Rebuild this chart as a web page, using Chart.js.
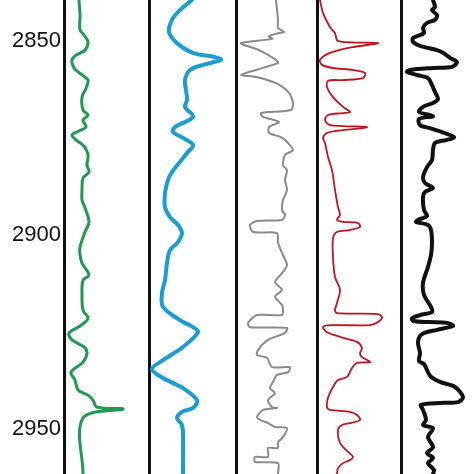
<!DOCTYPE html>
<html>
<head>
<meta charset="utf-8">
<script src="https://cdn.jsdelivr.net/npm/chart.js@4/dist/chart.umd.min.js"></script>
<style>
html,body{margin:0;padding:0;background:#fff;}
#wrap{width:474px;height:474px;position:relative;}
</style>
</head>
<body>
<div id="wrap"><canvas id="c" width="474" height="474"></canvas></div>
<script>
// depth tick labels
const depthTicks = [2850, 2900, 2950];
const depthMin = 2839.5, depthMax = 2961.5;

// curve readings: [reading within track, depth]
const greenLog = [[15,2839.5],[16,2843.4],[16,2847.2],[20,2848.5],[24,2850.3],[21,2852.4],[12,2853.7],[8,2854.9],[10,2857.0],[18,2858.8],[24,2860.1],[22,2862.2],[18,2864.5],[19,2867.8],[24,2869.1],[19,2870.4],[22,2872.2],[15,2873.2],[8,2874.3],[12,2875.5],[20,2877.1],[24,2879.4],[23,2882.0],[25,2883.8],[19,2885.3],[18,2888.4],[18,2891.0],[20,2892.3],[25,2896.6],[21,2899.2],[16,2903.1],[16,2905.1],[18,2907.2],[25,2910.3],[19,2911.6],[18,2915.4],[19,2919.3],[24,2921.4],[16,2923.4],[5,2925.2],[8,2927.0],[20,2928.8],[23,2930.4],[19,2932.7],[7,2935.3],[11,2937.3],[14,2939.9],[24,2941.2],[29,2942.5],[33,2944.3],[59,2944.8],[19,2947.1],[19,2961.5]];

const blueLog = [[43,2839.5],[31,2842.1],[23,2844.6],[20,2847.7],[28,2850.6],[44,2853.1],[66,2854.2],[72,2854.9],[54,2856.2],[41,2857.5],[36,2860.1],[37,2862.7],[38,2865.2],[36,2867.0],[44,2869.6],[26,2872.2],[24,2873.5],[34,2875.0],[44,2876.8],[38,2878.9],[34,2880.2],[23,2883.8],[19,2885.8],[16,2889.2],[16,2892.8],[21,2895.4],[29,2897.4],[33,2899.5],[29,2901.8],[21,2903.9],[18,2907.2],[16,2911.6],[13,2914.9],[14,2918.5],[31,2921.9],[44,2923.7],[49,2925.0],[34,2928.8],[14,2932.2],[3,2934.5],[14,2936.8],[34,2939.4],[48,2942.5],[44,2944.5],[33,2945.5],[28,2947.1],[33,2948.9],[34,2952.0],[34,2961.5]];

const grayLog = [[40,2839.5],[42,2844.6],[42,2846.7],[48,2847.7],[43,2848.0],[33,2848.8],[36,2849.5],[5,2850.6],[23,2852.4],[40,2854.9],[42,2855.7],[20,2857.5],[5,2858.8],[20,2859.3],[40,2860.9],[53,2863.4],[57,2866.0],[55,2867.8],[25,2868.6],[27,2869.6],[43,2870.9],[33,2872.2],[33,2873.7],[45,2874.8],[52,2876.3],[57,2878.1],[49,2879.4],[47,2882.0],[51,2883.3],[49,2885.8],[51,2888.4],[47,2891.0],[46,2893.6],[49,2894.8],[46,2896.1],[21,2896.4],[14,2897.4],[17,2899.2],[41,2899.5],[42,2902.0],[46,2904.6],[51,2907.7],[46,2909.8],[39,2912.1],[46,2914.1],[39,2915.9],[46,2918.0],[47,2919.3],[46,2920.6],[21,2920.6],[12,2922.6],[14,2923.7],[51,2923.9],[49,2925.2],[32,2927.0],[22,2929.6],[21,2930.9],[31,2931.6],[36,2934.0],[54,2934.0],[52,2935.3],[41,2936.0],[37,2937.8],[34,2939.4],[39,2940.7],[32,2942.5],[36,2944.3],[41,2944.5],[27,2945.0],[21,2946.8],[24,2947.6],[32,2948.4],[39,2949.4],[51,2949.7],[47,2952.0],[42,2953.3],[42,2954.8],[32,2954.8],[32,2957.1],[19,2957.1],[19,2958.4],[42,2958.7],[42,2961.5]];

const redLog = [[3,2839.5],[6,2842.8],[13,2846.5],[18,2848.0],[21,2850.1],[61,2850.6],[36,2851.6],[13,2853.1],[3,2854.9],[5,2856.2],[16,2857.0],[36,2857.5],[48,2858.3],[46,2859.6],[26,2860.1],[11,2860.3],[10,2861.9],[16,2864.5],[26,2867.0],[33,2868.3],[26,2868.6],[11,2869.1],[8,2870.4],[13,2871.7],[50,2872.2],[26,2873.0],[10,2873.7],[6,2875.0],[8,2876.3],[11,2879.9],[15,2883.3],[18,2888.4],[21,2892.8],[23,2894.8],[20,2896.1],[26,2896.6],[41,2896.9],[43,2897.9],[33,2898.7],[20,2899.2],[16,2900.8],[16,2905.7],[18,2910.8],[23,2914.1],[20,2917.5],[18,2919.3],[20,2920.1],[60,2920.3],[65,2921.1],[61,2922.4],[53,2923.2],[13,2923.2],[6,2923.7],[10,2925.0],[23,2926.2],[40,2927.5],[45,2929.1],[43,2930.4],[45,2931.4],[53,2932.7],[40,2932.9],[35,2934.2],[30,2936.5],[21,2937.3],[16,2939.1],[11,2941.9],[10,2944.3],[13,2945.0],[33,2945.5],[40,2946.3],[43,2947.6],[33,2948.4],[25,2948.9],[21,2950.2],[23,2953.5],[31,2955.8],[36,2957.1],[33,2957.9],[26,2958.7],[21,2960.0],[20,2961.5]];

const blackLog = [[32,2839.5],[34,2841.3],[31,2842.1],[36,2843.4],[34,2844.6],[26,2845.4],[22,2846.7],[23,2848.0],[12,2849.3],[12,2850.3],[19,2851.3],[36,2852.4],[42,2853.1],[49,2854.4],[56,2855.5],[51,2856.7],[32,2857.0],[9,2857.5],[6,2858.0],[16,2858.8],[27,2859.6],[31,2861.4],[34,2863.2],[37,2865.0],[32,2866.0],[22,2867.0],[18,2868.3],[32,2869.4],[18,2870.1],[19,2871.7],[29,2872.5],[41,2873.5],[53,2874.8],[46,2875.5],[34,2876.3],[32,2878.1],[31,2880.7],[26,2882.5],[22,2885.1],[24,2886.6],[32,2887.9],[24,2888.9],[22,2890.2],[23,2893.6],[26,2895.1],[17,2896.1],[15,2896.6],[27,2897.4],[30,2898.7],[31,2902.0],[30,2905.1],[27,2908.2],[22,2912.3],[23,2915.4],[30,2918.5],[31,2919.8],[19,2920.6],[11,2921.4],[12,2922.1],[29,2922.4],[46,2922.6],[52,2923.4],[36,2924.4],[21,2925.5],[17,2927.5],[19,2930.4],[18,2932.4],[23,2933.2],[27,2935.3],[30,2936.5],[39,2937.8],[54,2939.1],[62,2941.7],[57,2943.0],[39,2943.2],[20,2943.7],[22,2945.0],[25,2947.6],[22,2948.9],[32,2949.7],[27,2952.0],[32,2954.6],[26,2956.1],[32,2957.4],[27,2958.7],[33,2960.5],[32,2961.5]];

// layout of tracks (left edge of each track on the horizontal axis)
const trackLeft = [0, 85, 172, 253, 337];
const trackSpan = 410;

const logs = [greenLog, blueLog, grayLog, redLog, blackLog];
const colors = ['#1f9a50', '#1a9dd3', '#8a8a8a', '#c0151f', '#111111'];
const widths = [3, 4, 2, 1.8, 4];
const tensions = [0.35, 0.35, 0.25, 0.3, 0.3];

const datasets = logs.map((log, i) => ({
  data: log.map(p => ({x: trackLeft[i] + p[0], y: p[1]})),
  borderColor: colors[i],
  borderWidth: widths[i],
  pointRadius: 0,
  fill: false,
  tension: tensions[i],
  borderJoinStyle: 'round',
  borderCapStyle: 'round'
}));

new Chart(document.getElementById('c'), {
  type: 'line',
  data: { datasets },
  options: {
    responsive: false,
    animation: false,
    indexAxis: 'y',
    layout: { padding: 0 },
    plugins: { legend: { display: false }, tooltip: { enabled: false } },
    scales: {
      x: {
        type: 'linear',
        position: 'bottom',
        min: 0,
        max: trackSpan,
        afterBuildTicks: s => { s.ticks = trackLeft.map(v => ({value: v})); },
        ticks: { display: false },
        grid: { color: '#111', lineWidth: 3, drawTicks: false },
        border: { display: false },
        afterFit: s => { s.height = 0; s.paddingLeft = 0; s.paddingRight = 0; s.paddingTop = 0; s.paddingBottom = 0; }
      },
      y: {
        type: 'linear',
        reverse: true,
        min: depthMin,
        max: depthMax,
        afterBuildTicks: s => { s.ticks = depthTicks.map(v => ({value: v})); },
        afterFit: s => { s.width = 64; s.paddingTop = 0; s.paddingBottom = 0; s.paddingLeft = 0; s.paddingRight = 0; },
        ticks: {
          color: '#111',
          padding: 3,
          font: { family: 'Liberation Sans, Arial, sans-serif', size: 22 },
          callback: v => String(v)
        },
        grid: { display: false, drawTicks: false },
        border: { display: true, color: '#111', width: 3 }
      }
    }
  }
});
</script>
</body>
</html>
